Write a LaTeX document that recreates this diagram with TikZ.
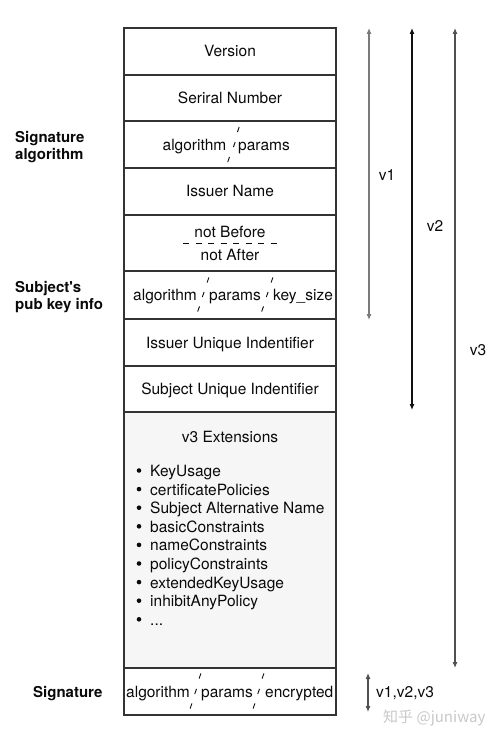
\documentclass[tikz,border=0pt]{standalone}
\usepackage{fontspec}
\setmainfont{TeX Gyre Heros}[Ligatures=TeXOff]
\newfontfamily\cjkfont{Noto Sans CJK SC}
\usetikzlibrary{arrows.meta}
\definecolor{boxline}{HTML}{333333}
\definecolor{extfill}{HTML}{F6F6F6}
\definecolor{txt}{HTML}{0A0A0A}
\definecolor{arrA}{HTML}{7A7A7A}
\definecolor{arrB}{HTML}{111111}
\definecolor{arrC}{HTML}{505050}
\definecolor{wmgray}{HTML}{C8C8C8}
\begin{document}
\begin{tikzpicture}[x=1pt,y=-1pt,
  rowbox/.style={draw=boxline, line width=1.2pt, minimum width=212pt, inner sep=0pt, outer sep=0pt, anchor=north west},
  lbl/.style={text=txt, font=\fontsize{15.5}{18}\selectfont, inner sep=0pt, text height=11pt, text depth=0pt},
  side/.style={text=txt, font=\bfseries\fontsize{15}{18}\selectfont, inner sep=0pt, text height=11pt, text depth=0pt, anchor=west},
  varrow/.style={line width=1.1pt, {Latex[length=6pt,width=5pt]}-{Latex[length=6pt,width=5pt]}},
  slashmark/.style={draw=txt, line width=0.9pt},
  bulletdot/.style={fill=txt, draw=none}
]
\useasboundingbox (0,0) rectangle (500,741);

% rows
\node[rowbox, minimum height=47pt] (ver) at (124,28) {};
\node[rowbox, minimum height=46pt] (ser) at (124,75) {};
\node[rowbox, minimum height=47pt] (alg) at (124,121) {};
\node[rowbox, minimum height=47pt] (iss) at (124,168) {};
\node[rowbox, minimum height=56pt] (val) at (124,215) {};
\node[rowbox, minimum height=48pt] (pk) at (124,271) {};
\node[rowbox, minimum height=47pt] (iuid) at (124,319) {};
\node[rowbox, minimum height=46pt] (suid) at (124,366) {};
\node[rowbox, minimum height=256pt, fill=extfill] (ext) at (124,412) {};
\node[rowbox, minimum height=47pt] (sig) at (124,668) {};

% row texts
\node[lbl] (tver) at (230,51) {Version};
\node[lbl] (tser) at (230,98) {Seriral Number};
\node[lbl, anchor=east] (talg1) at (226.5,144.5) {algorithm};
\node[lbl, anchor=west] (talg2) at (238,144.5) {params};
\node[lbl] (tiss) at (230,191) {Issuer Name};
\node[lbl] (tnb) at (230,232) {not Before};
\node[lbl] (tna) at (230,255) {not After};
\draw[draw=txt, line width=1pt, dash pattern=on 6pt off 6.5pt] (183,243) -- (278,243);
\node[lbl, anchor=west] (tpk1) at (133,295) {algorithm};
\node[lbl, anchor=west] (tpk2) at (209,295) {params};
\node[lbl, anchor=west] (tpk3) at (273,295) {key\_size};
\node[lbl] (tiuid) at (230,342.5) {Issuer Unique Indentifier};
\node[lbl] (tsuid) at (230,389) {Subject Unique Indentifier};
\node[lbl] (text) at (230,437) {v3 Extensions};
\foreach \t [count=\i from 0] in {KeyUsage,certificatePolicies,Subject Alternative Name,basicConstraints,nameConstraints,policyConstraints,extendedKeyUsage,inhibitAnyPolicy}{
  \fill[bulletdot] (139,470.5+18.6*\i) circle (2.3pt);
  \node[lbl, anchor=west] (item\i) at (150,471+18.6*\i) {\t};
}
\fill[bulletdot] (139,619.3) circle (2.3pt);
\node[lbl, anchor=west] (item8) at (150,619.8) {...};
\node[lbl, anchor=west] (tsig1) at (126,691.5) {algorithm};
\node[lbl, anchor=west] (tsig2) at (201,691.5) {params};
\node[lbl, anchor=west] (tsig3) at (265,691.5) {encrypted};

% slash separators
\foreach \x/\y in {238.3/129.5, 234.3/144.5, 228.6/159.5,
                   208/280, 203.2/294.5, 198.6/309,
                   272/280, 267.2/294.5, 262.6/309,
                   200/676, 195.6/691.5, 191/706,
                   263/676, 258.6/691.5, 254/706}{
  \draw[slashmark] (\x+0.9,\y-2.6) -- (\x-0.9,\y+2.6);
}

% side labels
\node[side] (sa1) at (15,137) {Signature};
\node[side] (sa2) at (15,154) {algorithm};
\node[side] (sp1) at (15,287) {Subject's};
\node[side] (sp2) at (15,304) {pub key info};
\node[side] (ss) at (33,692) {Signature};

% version arrows
\coordinate (v1top) at (369,28);
\coordinate (v1bot) at (369,320);
\coordinate (v2top) at (412,28);
\coordinate (v2bot) at (412,410);
\coordinate (v3top) at (455,28);
\coordinate (v3bot) at (455,668);
\coordinate (vatop) at (368,673);
\coordinate (vabot) at (368,712);
\draw[varrow, draw=arrA, color=arrA] (v1top) -- (v1bot);
\draw[varrow, draw=arrB, color=arrB] (v2top) -- (v2bot);
\draw[varrow, draw=arrC, color=arrC] (v3top) -- (v3bot);
\draw[varrow, draw=arrC, color=arrC] (vatop) -- (vabot);
\node[lbl] (lv1) at (387,175) {v1};
\node[lbl] (lv2) at (435,226) {v2};
\node[lbl] (lv3) at (478,350) {v3};
\node[lbl, anchor=west] (lva) at (376,691.5) {v1,v2,v3};

% watermark
\node[anchor=west, inner sep=0pt, text=wmgray, font=\cjkfont\fontsize{15}{15}\selectfont] (wm) at (383,718) {知乎 @juniway};
\end{tikzpicture}
\end{document}
